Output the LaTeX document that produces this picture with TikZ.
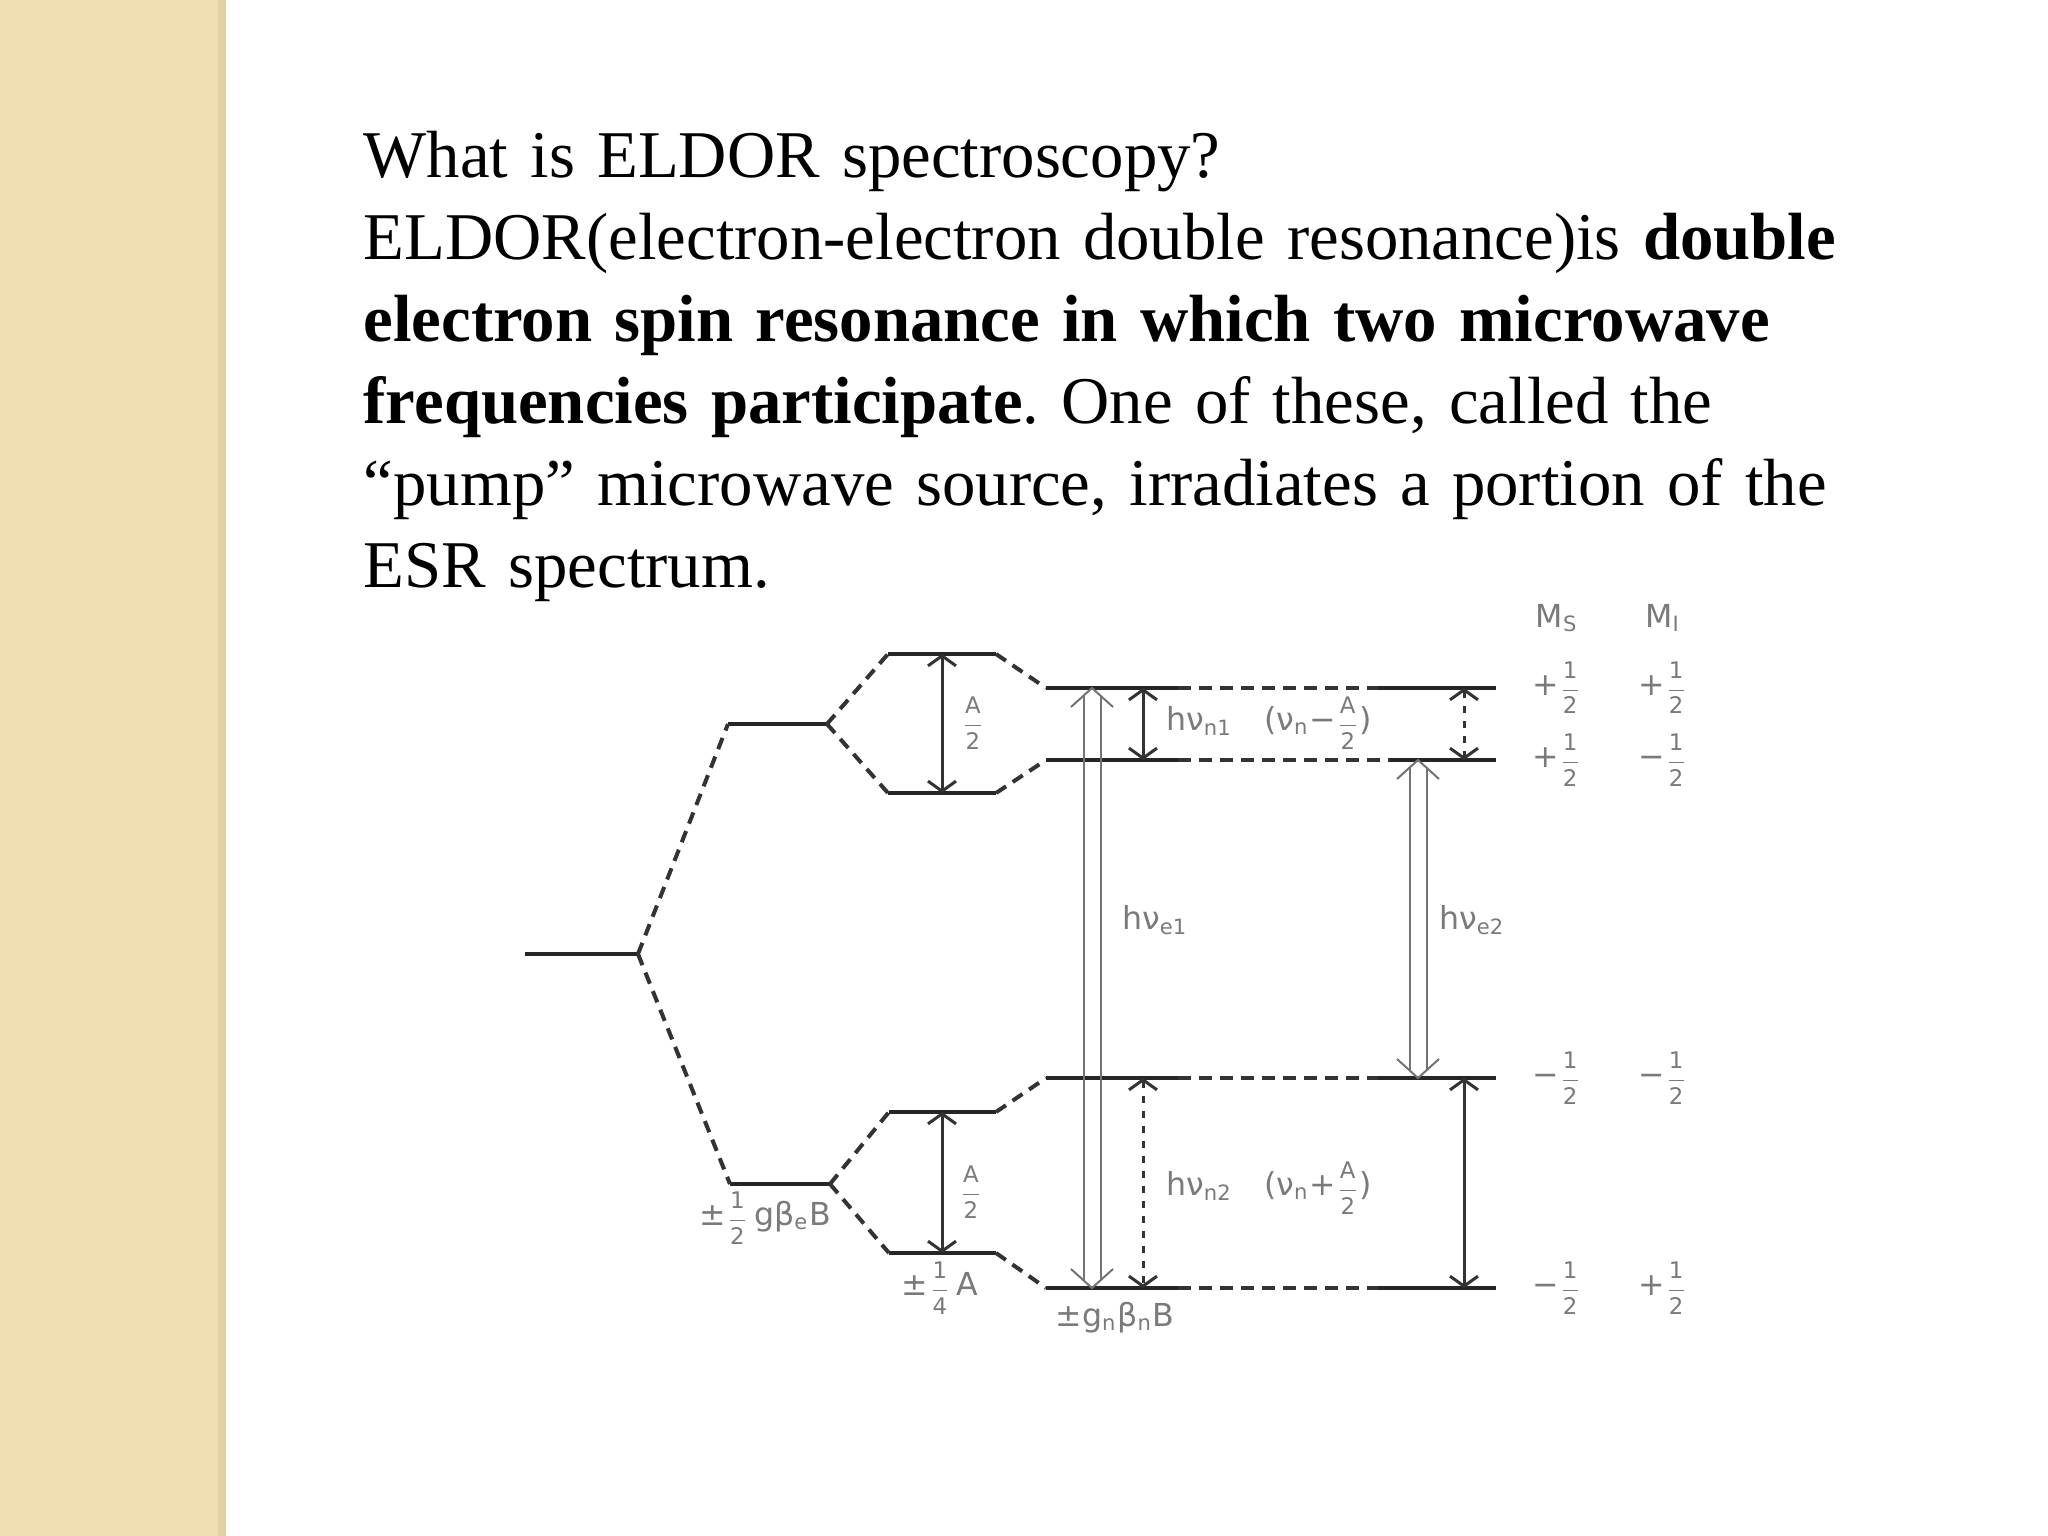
\documentclass[tikz,border=0pt]{standalone}
\usepackage{fontspec}
\usepackage{amsmath}
\setmainfont{Liberation Serif}
\newfontfamily\labfont{DejaVu Sans}
\usetikzlibrary{arrows.meta,calc,positioning}
\definecolor{sidebeige}{HTML}{F1DEB3}
\definecolor{sideedge}{HTML}{E2D1A6}
\definecolor{labgray}{HTML}{7A7A7A}
\newcommand{\lfrac}[2]{{\fontsize{6.5pt}{7pt}\selectfont$\dfrac{\text{#1}}{\text{#2}}$}}

\begin{document}
\begin{tikzpicture}[x=1cm, y=1cm,
  level/.style={line width=0.035cm, draw=black!85},
  link/.style={line width=0.04cm, draw=black!80, dash pattern=on 0.12cm off 0.08cm},
  ext/.style={line width=0.035cm, draw=black!80, dash pattern=on 0.13cm off 0.08cm},
  trans/.style={line width=0.03cm, draw=black!80, {Straight Barb[length=1mm,width=2.8mm]}-{Straight Barb[length=1mm,width=2.8mm]}},
  dottrans/.style={trans, dash pattern=on 0.07cm off 0.08cm},
  hollow/.style={line width=0.02cm, draw=black!55},
  lab/.style={font=\labfont\fontsize{9pt}{10pt}\selectfont, text=labgray, inner sep=1pt}]
  \useasboundingbox (0,0) rectangle (20.48,-15.36);
  \fill[white] (0,0) rectangle (20.48,-15.36);
  \fill[sidebeige] (0,0) rectangle (2.20,-15.36);
  \fill[sideedge] (2.18,0) rectangle (2.26,-15.36);

  \node[anchor=base west, inner sep=0, text width=15.2cm, align=left,
        font=\fontsize{19pt}{23.3pt}\selectfont\frenchspacing] (intro) at (3.63,-1.78)
    {What is ELDOR spectroscopy?\\
     ELDOR(electron-electron double resonance)is \textbf{double}\\
     \textbf{electron spin resonance in which two microwave}\\
     \textbf{frequencies participate}. One of these, called the\\
     “pump” microwave source, irradiates a portion of the\\
     ESR spectrum.};

  % energy levels
  \coordinate (E0l) at (5.25,-9.54);  \coordinate (E0r) at (6.38,-9.54);
  \coordinate (Eul) at (7.28,-7.24);  \coordinate (Eur) at (8.27,-7.24);
  \coordinate (Edl) at (7.30,-11.84); \coordinate (Edr) at (8.30,-11.84);
  \coordinate (Hu1l) at (8.88,-6.54); \coordinate (Hu1r) at (9.96,-6.54);
  \coordinate (Hu2l) at (8.88,-7.93); \coordinate (Hu2r) at (9.96,-7.93);
  \coordinate (Hd1l) at (8.89,-11.12); \coordinate (Hd1r) at (9.96,-11.12);
  \coordinate (Hd2l) at (8.89,-12.53); \coordinate (Hd2r) at (9.96,-12.53);
  \foreach \n in {E0,Eu,Ed,Hu1,Hu2,Hd1,Hd2}
    \draw[level] (\n l) -- (\n r);

  \foreach \n/\y/\k in {N1/-6.88/13.78, N2/-7.60/13.90, N3/-10.78/13.78, N4/-12.88/13.78} {
    \coordinate (\n l) at (10.46,\y); \coordinate (\n m) at (11.78,\y);
    \coordinate (\n k) at (\k,\y);    \coordinate (\n r) at (14.96,\y);
    \draw[level] (\n l) -- (\n m);
    \draw[ext] (\n m) -- (\n k);
    \draw[level] (\n k) -- (\n r);
  }

  % splitting
  \draw[link] (E0r) -- (Eul);
  \draw[link] (E0r) -- (Edl);
  \draw[link] (Eur) -- (Hu1l);
  \draw[link] (Eur) -- (Hu2l);
  \draw[link] (Edr) -- (Hd1l);
  \draw[link] (Edr) -- (Hd2l);
  \draw[link] (Hu1r) -- (N1l);
  \draw[link] (Hu2r) -- (N2l);
  \draw[link] (Hd1r) -- (N3l);
  \draw[link] (Hd2r) -- (N4l);

  % transitions
  \coordinate (xa) at (9.42,0);
  \coordinate (xe1) at (10.92,0);
  \coordinate (xn) at (11.43,0);
  \coordinate (xe2) at (14.18,0);
  \coordinate (xr) at (14.64,0);
  \draw[trans] (xa |- Hu1l) -- (xa |- Hu2l);
  \draw[trans] (xa |- Hd1l) -- (xa |- Hd2l);
  \draw[trans] (xn |- N1l) -- (xn |- N2l);
  \draw[dottrans] (xn |- N3l) -- (xn |- N4l);
  \draw[dottrans] (xr |- N1l) -- (xr |- N2l);
  \draw[trans] (xr |- N3l) -- (xr |- N4l);
  \foreach \xx/\hi/\lo in {xe1/N1/N4, xe2/N2/N3} {
    \draw[hollow] ($(\xx |- \hi l)+(-0.21,-0.19)$) -- (\xx |- \hi l) -- ++(0.21,-0.19);
    \draw[hollow] ($(\xx |- \lo l)+(-0.21,0.19)$) -- (\xx |- \lo l) -- ++(0.21,0.19);
    \draw[hollow] ($(\xx |- \hi l)+(-0.085,-0.077)$) -- ($(\xx |- \lo l)+(-0.085,0.077)$);
    \draw[hollow] ($(\xx |- \hi l)+(0.085,-0.077)$) -- ($(\xx |- \lo l)+(0.085,0.077)$);
  }

  % labels
  \node[lab] (au) at (9.73,-7.23) {\lfrac{A}{2}};
  \node[lab] (ad) at (9.71,-11.92) {\lfrac{A}{2}};
  \node[lab, anchor=west] (hn1) at (11.62,-7.23) {hν\textsubscript{n1}\quad(ν\textsubscript{n}−\lfrac{A}{2})};
  \node[lab, anchor=west] (hn2) at (11.62,-11.88) {hν\textsubscript{n2}\quad(ν\textsubscript{n}+\lfrac{A}{2})};
  \node[lab, anchor=west] (he1) at (11.18,-9.20) {hν\textsubscript{e1}};
  \node[lab, anchor=west] (he2) at (14.35,-9.20) {hν\textsubscript{e2}};
  \node[lab] (ge) at (7.65,-12.18) {±\lfrac{1}{2}\,gβ\textsubscript{e}B};
  \node[lab] (aq) at (9.40,-12.88) {±\lfrac{1}{4}\,A};
  \node[lab] (gn) at (11.15,-13.18) {±g\textsubscript{n}β\textsubscript{n}B};
  \node[lab] (ms) at (15.57,-6.18) {M\textsubscript{S}};
  \node[lab] (mi) at (16.63,-6.18) {M\textsubscript{I}};
  \foreach \n/\s/\i in {N1/+/+, N2/+/−, N3/−/−, N4/−/+} {
    \node[lab] (\n s) at ($(\n r)+(0.61,0)$) {\s\lfrac{1}{2}};
    \node[lab] (\n i) at ($(\n r)+(1.67,0)$) {\i\lfrac{1}{2}};
  }
\end{tikzpicture}
\end{document}
